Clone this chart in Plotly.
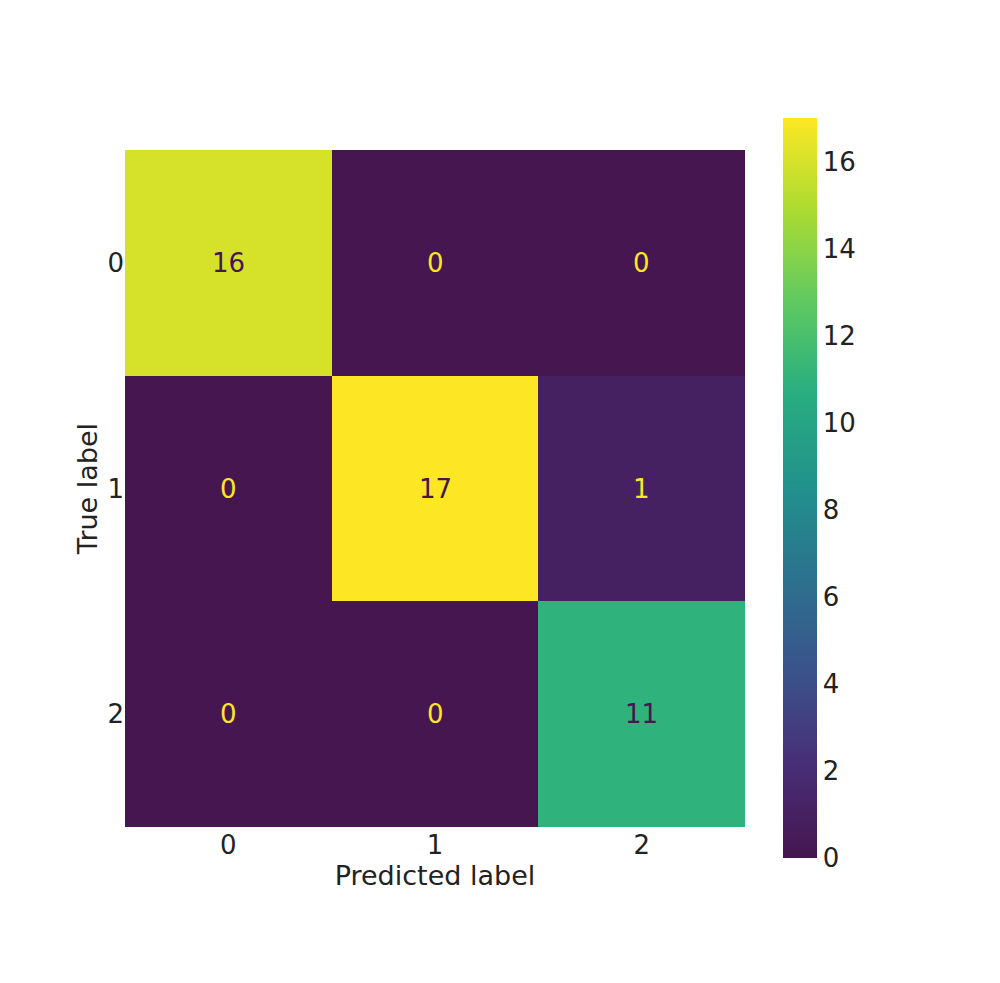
import plotly.graph_objects as go

labels = ["0", "1", "2"]
matrix = [[16, 0, 0],
          [0, 17, 1],
          [0, 0, 11]]
cbar_ticks = [0, 2, 4, 6, 8, 10, 12, 14, 16]

zmax = 17
viridis = [[0.0, "#45164f"], [0.13, "#482f78"], [0.25, "#3b528b"], [0.38, "#2c728e"],
           [0.5, "#21918c"], [0.63, "#28ae80"], [0.75, "#5ec962"], [0.88, "#addc30"],
           [1.0, "#fde725"]]
fig = go.Figure(go.Heatmap(
    z=matrix, x=labels, y=labels, zmin=0, zmax=zmax,
    colorscale=viridis, showscale=True,
    colorbar=dict(x=1.061, xanchor="left", y=0.5007, yanchor="middle",
                  lenmode="pixels", len=740, ypad=0, xpad=0, thickness=34, outlinewidth=0,
                  tickvals=cbar_ticks, ticks="", ticklabelposition="outside",
                  tickfont=dict(size=26, color="#222")),
))

for i, row in enumerate(matrix):
    for j, v in enumerate(row):
        fig.add_annotation(x=labels[j], y=labels[i], text=str(v), showarrow=False,
                           font=dict(size=26, color="#45164f" if v > zmax / 2 else "#fde725"))

fig.update_xaxes(title=dict(text="Predicted label", font=dict(size=27, color="#222"), standoff=4),
                 tickfont=dict(size=26, color="#222"), showgrid=False, zeroline=False)
fig.update_yaxes(title=dict(text="True label", font=dict(size=27, color="#222"), standoff=2),
                 tickfont=dict(size=26, color="#222"), autorange="reversed",
                 showgrid=False, zeroline=False)
fig.update_layout(width=1000, height=983, margin=dict(l=117, r=263, t=142, b=164),
                  font=dict(family="DejaVu Sans"), plot_bgcolor="white", paper_bgcolor="white")
fig.write_html("out.html")
